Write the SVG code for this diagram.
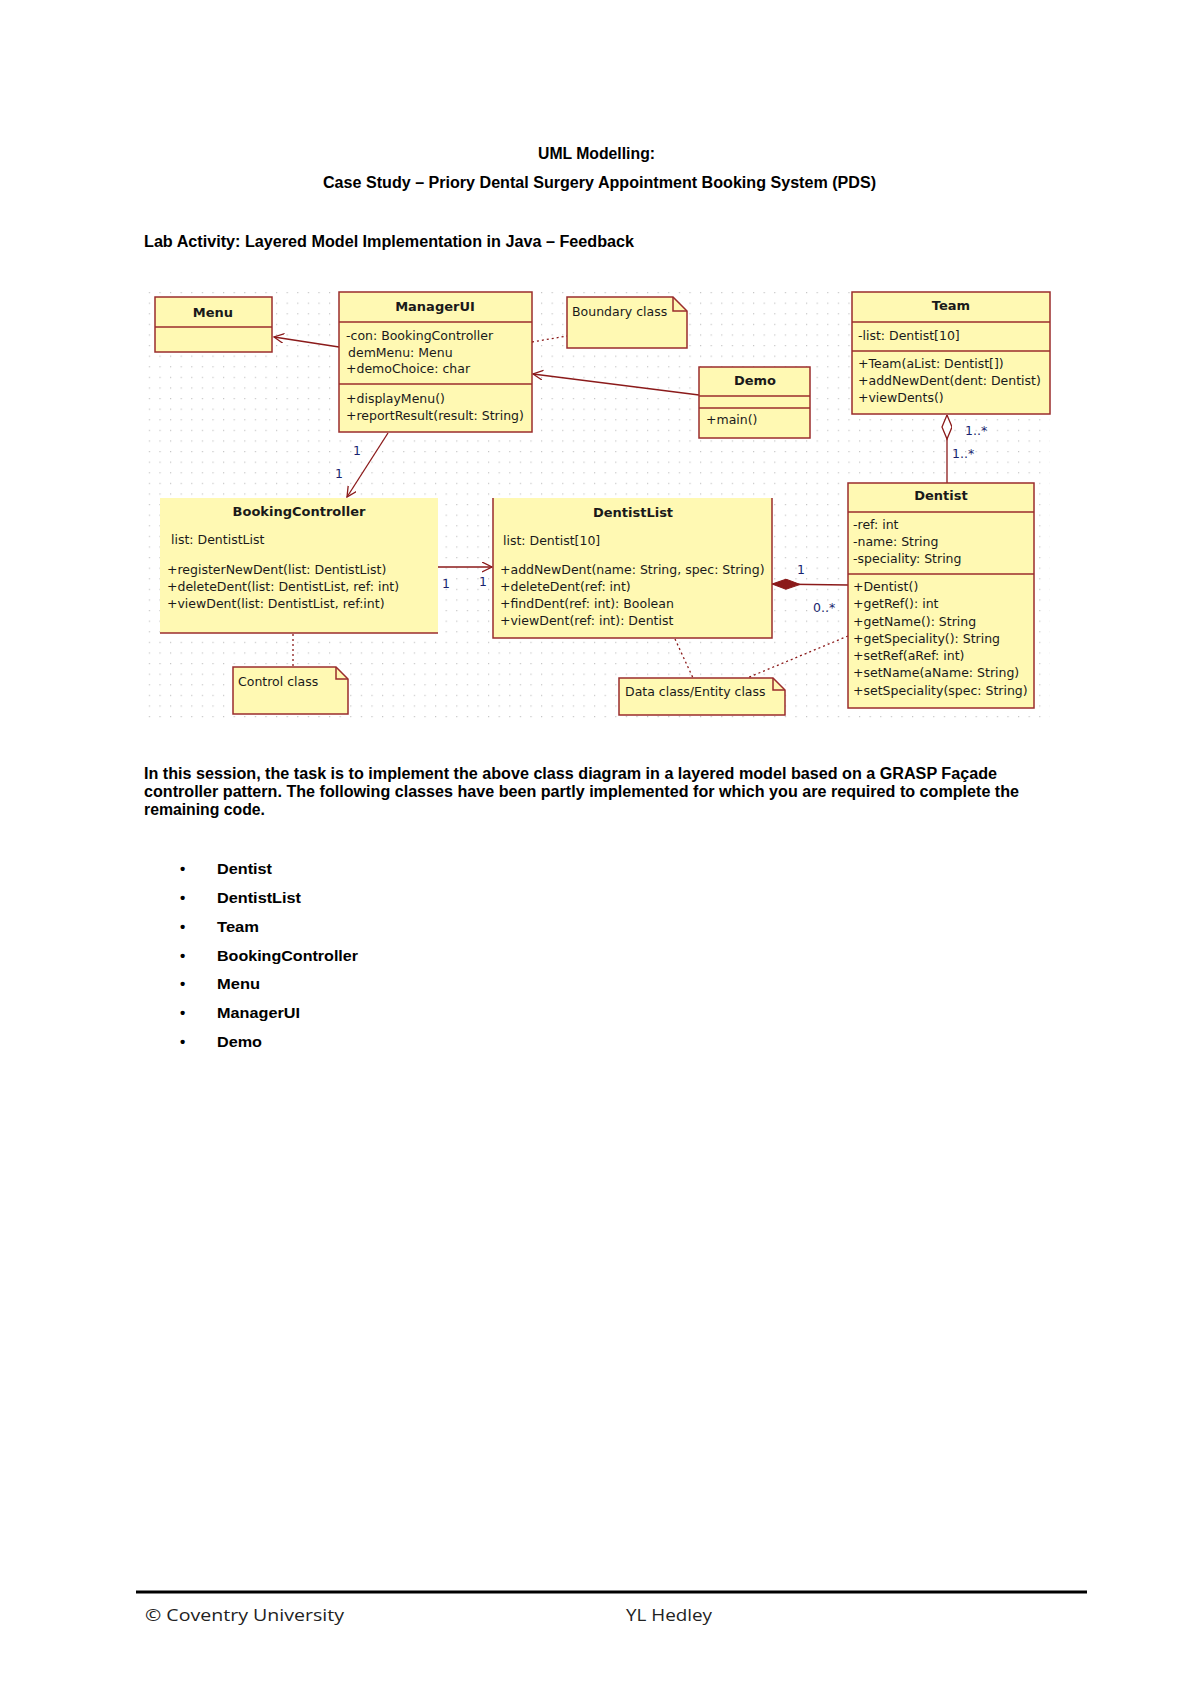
<svg xmlns="http://www.w3.org/2000/svg" width="1200" height="1698" viewBox="0 0 1200 1698">
<defs>
<style>
.bg{fill:#ffffff}
.cls{fill:#FFF9B3;stroke:#9B2D2D;stroke-width:1.5}
.fillonly{fill:#FFF9B3;stroke:none}
.edge{stroke:#9B2D2D;stroke-width:1.5;fill:none}
.t{font-family:"DejaVu Sans",sans-serif;font-size:12.5px;fill:#1a1a1a}
.tb{font-family:"DejaVu Sans",sans-serif;font-size:13px;font-weight:bold;fill:#1a1a1a;text-anchor:middle}
.conn{stroke:#8B1A1A;stroke-width:1.3;fill:none}
.dotted{stroke:#8B1A1A;stroke-width:1.3;fill:none;stroke-dasharray:2 3}
.mult{font-family:"DejaVu Sans",sans-serif;font-size:12.5px;fill:#1a1f6e}
.doc{font-family:"Liberation Sans",Arial,sans-serif;font-weight:bold;fill:#000}
.foot{font-family:"Open Sans","Liberation Sans",sans-serif;font-size:16px;fill:#222}
</style>
<pattern id="grid" x="148.8" y="292" width="10.6" height="10.6" patternUnits="userSpaceOnUse">
<rect x="0" y="0" width="1.2" height="1.2" fill="#c4c4c4"/>
</pattern>
<marker id="open" markerUnits="userSpaceOnUse" markerWidth="12" markerHeight="12" refX="10" refY="5" orient="auto">
<path d="M0,0 L10,5 L0,10" fill="none" stroke="#8B1A1A" stroke-width="1.3"/>
</marker>
<marker id="hollowDiamond" markerUnits="userSpaceOnUse" markerWidth="26" markerHeight="12" refX="0" refY="5" orient="auto">
<path d="M0,5 L12,0 L24,5 L12,10 Z" fill="#ffffff" stroke="#8B1A1A" stroke-width="1.3"/>
</marker>
<marker id="filledDiamond" markerUnits="userSpaceOnUse" markerWidth="30" markerHeight="12" refX="0" refY="5" orient="auto">
<path d="M0,5 L14,0 L28,5 L14,10 Z" fill="#8B1A1A" stroke="#8B1A1A" stroke-width="1"/>
</marker>
</defs>
<rect class="bg" x="0" y="0" width="1200" height="1698"/>

<!-- Document header -->
<text class="doc" x="538" y="159" font-size="16" textLength="117" lengthAdjust="spacingAndGlyphs">UML Modelling:</text>
<text class="doc" x="323" y="188" font-size="16" textLength="553" lengthAdjust="spacingAndGlyphs">Case Study – Priory Dental Surgery Appointment Booking System (PDS)</text>
<text class="doc" x="144" y="247" font-size="16" textLength="490" lengthAdjust="spacingAndGlyphs">Lab Activity:  Layered Model Implementation in Java – Feedback</text>

<!-- Diagram grid background -->
<rect x="146" y="287" width="904" height="431" fill="url(#grid)"/>

<!-- Connectors -->
<g id="connectors">
<line class="conn" x1="339" y1="347" x2="274" y2="337" marker-end="url(#open)"/>
<line class="conn" x1="699" y1="395" x2="533" y2="374" marker-end="url(#open)"/>
<line class="conn" x1="388" y1="433" x2="347" y2="497" marker-end="url(#open)"/>
<line class="conn" x1="438" y1="567" x2="492" y2="567" marker-end="url(#open)"/>
<line class="conn" x1="772" y1="584" x2="848" y2="585" marker-start="url(#filledDiamond)"/>
<line class="conn" x1="947" y1="415" x2="947" y2="483" marker-start="url(#hollowDiamond)"/>
<line class="dotted" x1="532" y1="342" x2="567" y2="336"/>
<line class="dotted" x1="293" y1="634" x2="293" y2="667"/>
<line class="dotted" x1="675" y1="639" x2="693" y2="678"/>
<line class="dotted" x1="848" y1="636" x2="747" y2="678"/>
<text class="mult" x="353" y="455">1</text>
<text class="mult" x="335" y="478">1</text>
<text class="mult" x="442" y="588">1</text>
<text class="mult" x="479" y="586">1</text>
<text class="mult" x="797" y="574">1</text>
<text class="mult" x="813" y="612">0..*</text>
<text class="mult" x="965" y="435">1..*</text>
<text class="mult" x="952" y="458">1..*</text>
</g>

<!-- Menu -->
<g id="menu">
<rect class="cls" x="155" y="297" width="117" height="55"/>
<line class="edge" x1="155" y1="327" x2="272" y2="327"/>
<text class="tb" x="213" y="317">Menu</text>
</g>

<!-- ManagerUI -->
<g id="managerui">
<rect class="cls" x="339" y="292" width="193" height="140"/>
<line class="edge" x1="339" y1="322" x2="532" y2="322"/>
<line class="edge" x1="339" y1="384" x2="532" y2="384"/>
<text class="tb" x="435" y="311">ManagerUI</text>
<text class="t" x="346" y="340">-con: BookingController</text>
<text class="t" x="348" y="357">demMenu: Menu</text>
<text class="t" x="346" y="373">+demoChoice: char</text>
<text class="t" x="346" y="403">+displayMenu()</text>
<text class="t" x="346" y="420">+reportResult(result: String)</text>
</g>

<!-- Boundary class note -->
<g id="note-boundary">
<path class="cls" d="M567,297 H673 L687,311 V348 H567 Z"/>
<path class="edge" d="M673,297 V311 H687"/>
<text class="t" x="572" y="316">Boundary class</text>
</g>

<!-- Demo -->
<g id="demo">
<rect class="cls" x="699" y="367" width="111" height="71"/>
<line class="edge" x1="699" y1="396" x2="810" y2="396"/>
<line class="edge" x1="699" y1="408" x2="810" y2="408"/>
<text class="tb" x="755" y="385">Demo</text>
<text class="t" x="706" y="424">+main()</text>
</g>

<!-- Team -->
<g id="team">
<rect class="cls" x="852" y="292" width="198" height="122"/>
<line class="edge" x1="852" y1="322" x2="1050" y2="322"/>
<line class="edge" x1="852" y1="351" x2="1050" y2="351"/>
<text class="tb" x="951" y="310">Team</text>
<text class="t" x="858" y="340">-list: Dentist[10]</text>
<text class="t" x="858" y="368">+Team(aList: Dentist[])</text>
<text class="t" x="858" y="385">+addNewDent(dent: Dentist)</text>
<text class="t" x="858" y="402">+viewDents()</text>
</g>

<!-- BookingController -->
<g id="bookingcontroller">
<rect class="fillonly" x="160" y="498" width="278" height="135"/>
<line class="edge" x1="160" y1="633" x2="438" y2="633"/>
<text class="tb" x="299" y="516">BookingController</text>
<text class="t" x="171" y="544">list: DentistList</text>
<text class="t" x="167" y="574">+registerNewDent(list: DentistList)</text>
<text class="t" x="167" y="591">+deleteDent(list: DentistList, ref: int)</text>
<text class="t" x="167" y="608">+viewDent(list: DentistList, ref:int)</text>
</g>

<!-- DentistList -->
<g id="dentistlist">
<rect class="fillonly" x="493" y="498" width="279" height="140"/>
<path class="edge" d="M493,498 V638 H772 V498"/>
<text class="tb" x="633" y="517">DentistList</text>
<text class="t" x="503" y="545">list: Dentist[10]</text>
<text class="t" x="500" y="574">+addNewDent(name: String, spec: String)</text>
<text class="t" x="500" y="591">+deleteDent(ref: int)</text>
<text class="t" x="500" y="608">+findDent(ref: int): Boolean</text>
<text class="t" x="500" y="625">+viewDent(ref: int): Dentist</text>
</g>

<!-- Dentist -->
<g id="dentist">
<rect class="cls" x="848" y="483" width="186" height="225"/>
<line class="edge" x1="848" y1="512" x2="1034" y2="512"/>
<line class="edge" x1="848" y1="574" x2="1034" y2="574"/>
<text class="tb" x="941" y="500">Dentist</text>
<text class="t" x="853" y="529">-ref: int</text>
<text class="t" x="853" y="546">-name: String</text>
<text class="t" x="853" y="563">-speciality: String</text>
<text class="t" x="853" y="591">+Dentist()</text>
<text class="t" x="853" y="608">+getRef(): int</text>
<text class="t" x="853" y="626">+getName(): String</text>
<text class="t" x="853" y="643">+getSpeciality(): String</text>
<text class="t" x="853" y="660">+setRef(aRef: int)</text>
<text class="t" x="853" y="677">+setName(aName: String)</text>
<text class="t" x="853" y="695">+setSpeciality(spec: String)</text>
</g>

<!-- Control class note -->
<g id="note-control">
<path class="cls" d="M233,667 H336 L348,679 V714 H233 Z"/>
<path class="edge" d="M336,667 V679 H348"/>
<text class="t" x="238" y="686">Control class</text>
</g>

<!-- Data class note -->
<g id="note-data">
<path class="cls" d="M619,678 H773 L785,690 V715 H619 Z"/>
<path class="edge" d="M773,678 V690 H785"/>
<text class="t" x="625" y="696">Data class/Entity class</text>
</g>

<!-- Body text -->
<text class="doc" x="144" y="779" font-size="16" textLength="853" lengthAdjust="spacingAndGlyphs">In this session, the task is to implement the above class diagram in a layered model based on a GRASP Façade</text>
<text class="doc" x="144" y="797" font-size="16" textLength="875" lengthAdjust="spacingAndGlyphs">controller pattern. The following classes have been partly implemented for which you are required to complete the</text>
<text class="doc" x="144" y="815" font-size="16" textLength="121" lengthAdjust="spacingAndGlyphs">remaining code.</text>

<g id="bullets">
<text class="doc" x="180" y="874" font-size="15">•</text>
<text class="doc" x="217" y="874" font-size="15.5" textLength="55" lengthAdjust="spacingAndGlyphs">Dentist</text>
<text class="doc" x="180" y="903" font-size="15">•</text>
<text class="doc" x="217" y="903" font-size="15.5" textLength="84" lengthAdjust="spacingAndGlyphs">DentistList</text>
<text class="doc" x="180" y="932" font-size="15">•</text>
<text class="doc" x="217" y="932" font-size="15.5" textLength="42" lengthAdjust="spacingAndGlyphs">Team</text>
<text class="doc" x="180" y="961" font-size="15">•</text>
<text class="doc" x="217" y="961" font-size="15.5" textLength="141" lengthAdjust="spacingAndGlyphs">BookingController</text>
<text class="doc" x="180" y="989" font-size="15">•</text>
<text class="doc" x="217" y="989" font-size="15.5" textLength="43" lengthAdjust="spacingAndGlyphs">Menu</text>
<text class="doc" x="180" y="1018" font-size="15">•</text>
<text class="doc" x="217" y="1018" font-size="15.5" textLength="83" lengthAdjust="spacingAndGlyphs">ManagerUI</text>
<text class="doc" x="180" y="1047" font-size="15">•</text>
<text class="doc" x="217" y="1047" font-size="15.5" textLength="45" lengthAdjust="spacingAndGlyphs">Demo</text>
</g>

<!-- Footer -->
<line x1="136" y1="1592" x2="1087" y2="1592" stroke="#000" stroke-width="3"/>
<text class="foot" x="145" y="1621" textLength="199" lengthAdjust="spacingAndGlyphs">© Coventry University</text>
<text class="foot" x="626" y="1621" textLength="86" lengthAdjust="spacingAndGlyphs">YL Hedley</text>
</svg>
